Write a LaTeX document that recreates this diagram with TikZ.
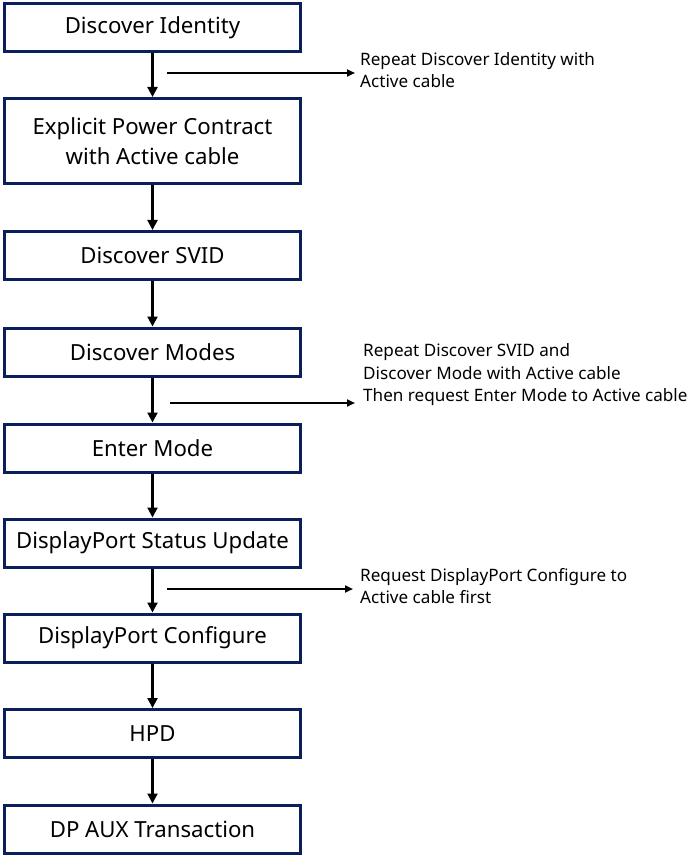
\documentclass[tikz,border=0pt]{standalone}
\usepackage{fontspec}
\setmainfont{Noto Sans}
\usetikzlibrary{arrows.meta}
\definecolor{navy}{HTML}{0A1F5C}
\begin{document}
\begin{tikzpicture}[x=1pt,y=-1pt,
  stepbox/.style={draw=navy, line width=3pt, fill=white, minimum width=296pt, minimum height=48pt,
    inner sep=0pt, align=center, font=\fontsize{22.2}{30}\selectfont},
  flow/.style={line width=2.2pt, -{Triangle[width=10pt,length=10pt]}},
  side/.style={line width=2pt, -{Triangle[width=7pt,length=8pt]}},
  note/.style={anchor=west, align=left, inner sep=0pt, font=\fontsize{17.1}{22.5}\selectfont}]
\useasboundingbox (0,0) rectangle (696,858);
\node[stepbox] (b1) at (152.5,27.5) {Discover Identity};
\node[stepbox, minimum height=85pt] (b2) at (152.5,141) {Explicit Power Contract\\with Active cable};
\node[stepbox] (b3) at (152.5,255.5) {Discover SVID};
\node[stepbox] (b4) at (152.5,352) {Discover Modes};
\node[stepbox] (b5) at (152.5,448) {Enter Mode};
\node[stepbox] (b6) at (152.5,543) {DisplayPort Status Update};
\node[stepbox] (b7) at (152.5,638) {DisplayPort Configure};
\node[stepbox] (b8) at (152.5,733.5) {HPD};
\node[stepbox] (b9) at (152.5,829) {DP AUX Transaction};
\foreach \a/\b in {b1/b2,b2/b3,b3/b4,b4/b5,b5/b6,b6/b7,b7/b8,b8/b9}
  \draw[flow] (\a.south) -- (\b.north);
\coordinate (s1) at (167,73);
\coordinate (e1) at (355,73);
\coordinate (s2) at (170,403);
\coordinate (e2) at (355,403);
\coordinate (s3) at (167,589);
\coordinate (e3) at (353,589);
\draw[side] (s1) -- (e1);
\draw[side] (s2) -- (e2);
\draw[side] (s3) -- (e3);
\node[note] (t1) at (360,70) {Repeat Discover Identity with\\Active cable};
\node[note] (t2) at (363,375) {Repeat Discover SVID and\\Discover Mode with Active cable\\Then request Enter Mode to Active cable};
\node[note] (t3) at (360,586) {Request DisplayPort Configure to\\Active cable first};
\end{tikzpicture}
\end{document}
